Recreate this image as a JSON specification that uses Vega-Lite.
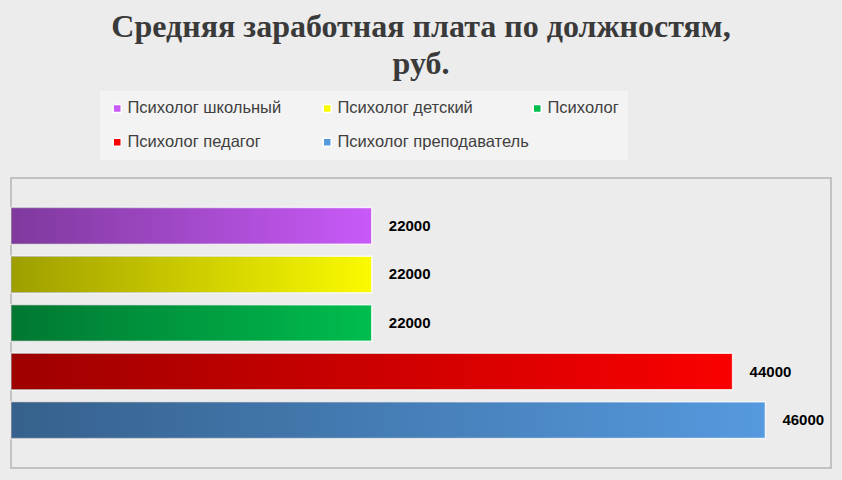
{
  "$schema": "https://vega.github.io/schema/vega-lite/v6.json",
  "autosize": {"type": "none"},
  "width": 820,
  "height": 290,
  "padding": {"left": 11, "top": 178, "right": 11, "bottom": 12},
  "background": "#ececec",
  "config": {
    "view": {"stroke": "#b4b4b4", "strokeWidth": 1.5},
    "font": "Liberation Sans"
  },
  "title": {
    "text": ["Средняя заработная плата по должностям,", "руб."],
    "font": "Liberation Serif",
    "fontSize": 32,
    "fontWeight": "bold",
    "color": "#3a3a3a",
    "lineHeight": 37,
    "anchor": "middle",
    "offset": 10
  },
  "data": {
    "values": [
      {"position": "Психолог школьный", "salary": 22000},
      {"position": "Психолог детский", "salary": 22000},
      {"position": "Психолог", "salary": 22000},
      {"position": "Психолог педагог", "salary": 44000},
      {"position": "Психолог преподаватель", "salary": 46000}
    ]
  },
  "encoding": {
    "y": {
      "field": "position",
      "type": "nominal",
      "sort": null,
      "axis": null,
      "scale": {"paddingInner": 0.245, "paddingOuter": 0.61}
    },
    "x": {
      "field": "salary",
      "type": "quantitative",
      "axis": null,
      "scale": {"domain": [0, 50000]}
    }
  },
  "layer": [
    {
      "mark": {"type": "bar", "stroke": "#ffffff", "strokeWidth": 1.5, "strokeOpacity": 0.8},
      "encoding": {
        "color": {
          "field": "position",
          "type": "nominal",
          "sort": null,
          "scale": {
            "domain": ["Психолог школьный", "Психолог детский", "Психолог", "Психолог педагог", "Психолог преподаватель"],
            "range": ["#c85af8", "#fafa00", "#00bd4e", "#fa0000", "#5599de"]
          },
          "legend": {
            "title": null,
            "orient": "none",
            "legendX": 89,
            "legendY": -87,
            "direction": "horizontal",
            "columns": 3,
            "gridAlign": "all",
            "columnPadding": 0,
            "rowPadding": 17,
            "padding": 9,
            "fillColor": "#f3f3f3",
            "symbolType": "square",
            "symbolSize": 64,
            "symbolOffset": 0,
            "labelFont": "Liberation Sans",
            "labelFontSize": 16.5,
            "labelColor": "#404040",
            "labelOffset": 2,
            "labelLimit": 300
          }
        }
      }
    },
    {
      "mark": {
        "type": "bar",
        "fill": {
          "gradient": "linear",
          "x1": 0, "y1": 0, "x2": 1, "y2": 0,
          "stops": [
            {"offset": 0, "color": "rgba(0,0,0,0.37)"},
            {"offset": 1, "color": "rgba(0,0,0,0)"}
          ]
        }
      }
    },
    {
      "mark": {
        "type": "text",
        "align": "left",
        "baseline": "middle",
        "dx": 17,
        "fontSize": 15,
        "fontWeight": "bold",
        "color": "#000000"
      },
      "encoding": {"text": {"field": "salary", "type": "quantitative", "format": "d"}}
    }
  ]
}
